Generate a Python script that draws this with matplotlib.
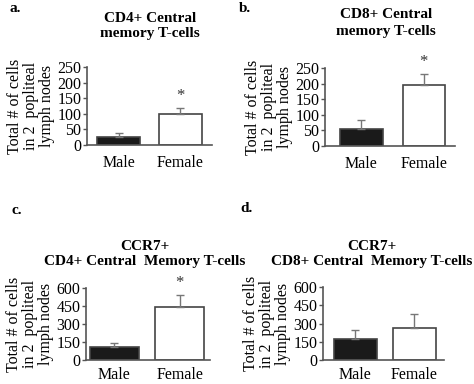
import matplotlib
matplotlib.use("Agg")
import matplotlib.pyplot as plt

categories = ["Male", "Female"]
panel_letters = ["a.", "b.", "c.", "d."]
titles = ["CD4+ Central\nmemory T-cells",
          "CD8+ Central\nmemory T-cells",
          "CCR7+\nCD4+ Central  Memory T-cells",
          "CCR7+\nCD8+ Central  Memory T-cells"]
means_a = [25, 100]
errs_a = [15, 17]
means_b = [53, 197]
errs_b = [29, 33]
means_c = [105, 445]
errs_c = [40, 95]
means_d = [170, 260]
errs_d = [80, 115]
yticks_ab = [0, 50, 100, 150, 200, 250]
yticks_cd = [0, 150, 300, 450, 600]
ylabel = "Total # of cells\nin 2  popliteal\nlymph nodes"

plt.rcParams['font.family'] = ['Liberation Serif', 'DejaVu Serif']
fig = plt.figure(figsize=(4.74, 3.84), dpi=100)

W, H = 474, 384
def axrect(x0, x1, ytop, ybot):
    return [x0 / W, 1 - ybot / H, (x1 - x0) / W, (ybot - ytop) / H]

specs = [
    dict(rect=axrect(87, 212, 67, 145), means=means_a, errs=errs_a, star=True,
         yt=yticks_ab, ylim=250, xlim=(-0.51, 1.51), width=0.7,
         title_xy=(150, 26), letter_xy=(9, 8), pad=7),
    dict(rect=axrect(325, 455, 68, 146), means=means_b, errs=errs_b, star=True,
         yt=yticks_ab, ylim=250, xlim=(-0.58, 1.5), width=0.68,
         title_xy=(386, 23), letter_xy=(239, 8), pad=7),
    dict(rect=axrect(86, 210, 288, 360), means=means_c, errs=errs_c, star=True,
         yt=yticks_cd, ylim=600, xlim=(-0.43, 1.46), width=0.75,
         title_xy=(145, 254), letter_xy=(11, 210), pad=5),
    dict(rect=axrect(323, 444, 287, 360), means=means_d, errs=errs_d, star=False,
         yt=yticks_cd, ylim=600, xlim=(-0.55, 1.5), width=0.72,
         title_xy=(372, 254), letter_xy=(240, 209), pad=5),
]

fs = 11.5
spine_col = "#555555"
for i, s in enumerate(specs):
    ax = fig.add_axes(s["rect"])
    x = range(len(categories))
    ax.bar(x, s["means"], width=s["width"], color=["#1a1a1a", "white"],
           edgecolor="#444444", linewidth=1.2, zorder=2)
    ax.errorbar(x, s["means"], yerr=[[0, 0], s["errs"]], fmt="none",
                ecolor="#777777", elinewidth=1.0, capsize=3, capthick=1.0, zorder=3)
    if s["star"]:
        top = s["means"][1] + s["errs"][1]
        ax.text(1, top + s["ylim"] * 0.06, "*", ha="center", va="bottom",
                fontsize=12, color="#333333", clip_on=False)
    ax.set_xlim(*s["xlim"])
    ax.set_ylim(0, s["ylim"])
    ax.set_yticks(s["yt"])
    ax.set_xticks(list(x))
    ax.set_xticklabels(categories, fontsize=fs)
    ax.tick_params(axis="x", length=0, pad=s["pad"])
    ax.tick_params(axis="y", length=3, width=1, color=spine_col, pad=1, labelsize=fs)
    for sp in ["top", "right"]:
        ax.spines[sp].set_visible(False)
    for sp in ["left", "bottom"]:
        ax.spines[sp].set_color(spine_col)
        ax.spines[sp].set_linewidth(1.2)
    ax.set_ylabel(ylabel, fontsize=fs, labelpad=2, linespacing=1.0)
    tx, ty = s["title_xy"]
    fig.text(tx / W, 1 - ty / H, titles[i], ha="center", va="center",
             fontsize=11, fontweight="bold", linespacing=1.3)
    lx, ly = s["letter_xy"]
    fig.text(lx / W, 1 - ly / H, panel_letters[i], ha="left", va="center",
             fontsize=11, fontweight="bold")

fig.savefig("out.png", dpi=100)
